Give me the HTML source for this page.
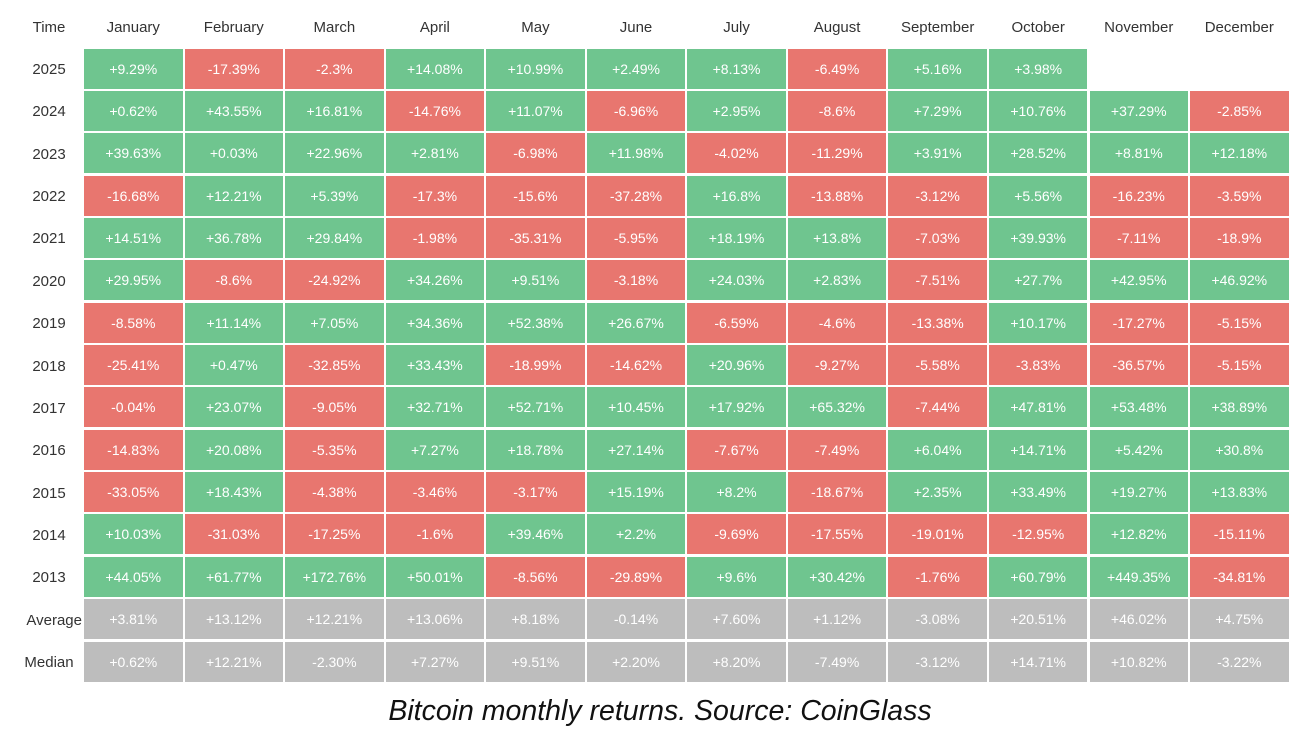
<!DOCTYPE html>
<html><head><meta charset="utf-8"><style>
body{margin:0;width:1306px;height:748px;background:#fff;overflow:hidden;font-family:"Liberation Sans",sans-serif;position:relative}
.c{position:absolute;color:#fff;font-size:14px;display:flex;align-items:center;justify-content:center}
.l{position:absolute;color:#333;font-size:15px;display:flex;align-items:center;justify-content:center}
#cap{position:absolute;left:0;width:1320px;top:695px;text-align:center;font-style:italic;font-size:28.5px;color:#111}
</style></head><body>
<div id="g"></div>
<div id="cap">Bitcoin monthly returns. Source: CoinGlass</div>
<script>
const months=["January","February","March","April","May","June","July","August","September","October","November","December"];
const rows=["2025","2024","2023","2022","2021","2020","2019","2018","2017","2016","2015","2014","2013","Average","Median"];
const v2025=[9.29,-17.39,-2.3,14.08,10.99,2.49,8.13,-6.49,5.16,3.98,null,null];
const v2024=[0.62,43.55,16.81,-14.76,11.07,-6.96,2.95,-8.6,7.29,10.76,37.29,-2.85];
const v2023=[39.63,0.03,22.96,2.81,-6.98,11.98,-4.02,-11.29,3.91,28.52,8.81,12.18];
const v2022=[-16.68,12.21,5.39,-17.3,-15.6,-37.28,16.8,-13.88,-3.12,5.56,-16.23,-3.59];
const v2021=[14.51,36.78,29.84,-1.98,-35.31,-5.95,18.19,13.8,-7.03,39.93,-7.11,-18.9];
const v2020=[29.95,-8.6,-24.92,34.26,9.51,-3.18,24.03,2.83,-7.51,27.7,42.95,46.92];
const v2019=[-8.58,11.14,7.05,34.36,52.38,26.67,-6.59,-4.6,-13.38,10.17,-17.27,-5.15];
const v2018=[-25.41,0.47,-32.85,33.43,-18.99,-14.62,20.96,-9.27,-5.58,-3.83,-36.57,-5.15];
const v2017=[-0.04,23.07,-9.05,32.71,52.71,10.45,17.92,65.32,-7.44,47.81,53.48,38.89];
const v2016=[-14.83,20.08,-5.35,7.27,18.78,27.14,-7.67,-7.49,6.04,14.71,5.42,30.8];
const v2015=[-33.05,18.43,-4.38,-3.46,-3.17,15.19,8.2,-18.67,2.35,33.49,19.27,13.83];
const v2014=[10.03,-31.03,-17.25,-1.6,39.46,2.2,-9.69,-17.55,-19.01,-12.95,12.82,-15.11];
const v2013=[44.05,61.77,172.76,50.01,-8.56,-29.89,9.6,30.42,-1.76,60.79,449.35,-34.81];
const avg=["+3.81%","+13.12%","+12.21%","+13.06%","+8.18%","-0.14%","+7.60%","+1.12%","-3.08%","+20.51%","+46.02%","+4.75%"];
const med=["+0.62%","+12.21%","-2.30%","+7.27%","+9.51%","+2.20%","+8.20%","-7.49%","-3.12%","+14.71%","+10.82%","-3.22%"];
const data=[v2025,v2024,v2023,v2022,v2021,v2020,v2019,v2018,v2017,v2016,v2015,v2014,v2013];
const g=document.getElementById('g');
const X0=84,PX=100.55,Y0=48.5,PY=42.36,W=98.5,H=40;
const xs=i=>X0+i*PX, ys=j=>Y0+j*PY;
function mk(cls,x,y,w,h,t){const d=document.createElement('div');d.className=cls;d.style.left=x+'px';d.style.top=y+'px';d.style.width=w+'px';d.style.height=h+'px';d.textContent=t;g.appendChild(d);return d;}
let e=mk('l',0,7,98,40,'Time');


months.forEach((m,i)=>{const d=mk('l',xs(i),7,W,40,m);

});
rows.forEach((r,j)=>{const d=mk('l',0,ys(j)+1,98,H,r);


if(r==='Average'){d.style.left='-8px';d.style.width='90px';d.style.justifyContent='flex-end';}
for(let i=0;i<12;i++){let txt,bg;
if(j<13){const v=data[j][i];if(v===null)continue;txt=(v>=0?'+':'')+v+'%';bg=v>=0?'#6fc58f':'#e8766f';}
else{txt=(j===13?avg:med)[i];bg='#bdbdbd';}
const c=mk('c',xs(i),ys(j),W,H,txt);c.style.background=bg;

}
});
</script></body></html>
